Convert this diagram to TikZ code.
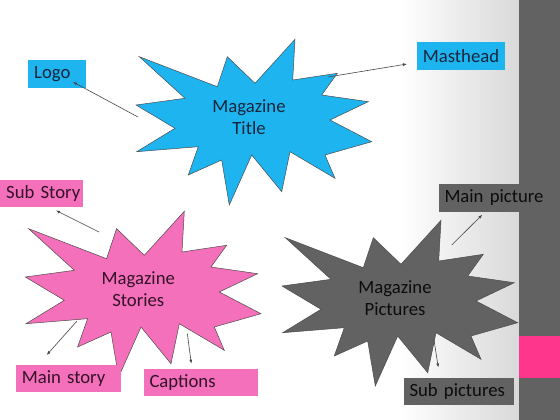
\documentclass[tikz,border=0pt]{standalone}
\usepackage{fontspec}
\setmainfont{Carlito}
\usetikzlibrary{arrows.meta}

\definecolor{titleblue}{RGB}{30,180,240}
\definecolor{storypink}{RGB}{245,112,186}
\definecolor{picgray}{RGB}{98,98,98}
\definecolor{bandpink}{RGB}{255,55,140}
\definecolor{bluetext}{RGB}{20,38,60}
\definecolor{pinktext}{RGB}{50,18,40}
\definecolor{graytext}{RGB}{12,12,12}
\definecolor{arrowgray}{RGB}{70,70,70}

\tikzset{
  burst/.pic={
    \draw[pic actions] (46,-77.7) -- (43.7,-37) -- (88.3,-43.7) -- (72.7,-22)
      -- (119.3,-15.3) -- (81,3) -- (122.7,24.7) -- (76,38) -- (86,61.3)
      -- (41,34.7) -- (32.7,74.7) -- (2.7,38) -- (-19.7,88) -- (-27.3,43)
      -- (-60.7,58) -- (-50.7,29.7) -- (-112.3,34.7) -- (-74,11.3)
      -- (-113,-12) -- (-64,-18.7) -- (-109.7,-60.3) -- (-31.7,-30.3)
      -- (-21.7,-60.3) -- (6,-33.7) -- cycle;
  },
  burstlabel/.style={align=center, font=\fontsize{18.7}{21.8}\selectfont},
  labelbox/.style={anchor=north west, fill=#1, minimum height=28pt,
    inner xsep=6pt, inner ysep=0pt, align=left,
    font=\fontsize{18.7}{21.8}\selectfont},
  pointer/.style={draw=arrowgray, line width=0.6pt, -{Latex[length=4pt,width=3pt]}}
}

\begin{document}
\begin{tikzpicture}[x=1pt, y=-1pt]
    \useasboundingbox (0,0) rectangle (560,420);

    % Background and side bar
    \fill[white] (0,0) rectangle (560,420);
    \shade[left color=white, right color=gray!30] (400,0) rectangle (519,420);
    \fill[picgray] (519,0) rectangle (560,420);
    \fill[bandpink] (519,335.7) rectangle (560,377.7);

    % Bursts
    \pic[fill=titleblue, draw=black!70, line width=0.5pt] at (249,117) {burst};
    \pic[fill=storypink, draw=black!70, line width=0.5pt] at (138.3,289) {burst};
    \pic[fill=picgray, draw=black!70, line width=0.5pt] at (395,298) {burst};

    \node[burstlabel, text=bluetext] (title) at (249,117) {Magazine\\Title};
    \node[burstlabel, text=pinktext] (stories) at (138.3,289) {Magazine\\Stories};
    \node[burstlabel, text=graytext] (pictures) at (395,298) {Magazine\\Pictures};

    % Boxes
    \node[labelbox=titleblue, text=bluetext, text width=46pt] (logo) at (28,60) {\mbox{Logo}};
    \node[labelbox=titleblue, text=bluetext, text width=76pt] (masthead) at (416.7,42.3) {\mbox{Masthead}};
    \node[labelbox=storypink, text=pinktext, text width=71pt, minimum height=27pt] (substory) at (0,179.5) {\mbox{Sub Story}};
    \node[labelbox=storypink, text=pinktext, text width=93pt, minimum height=27pt] (mainstory) at (15.7,365) {\mbox{Main story}};
    \node[labelbox=storypink, text=pinktext, text width=102pt, minimum height=27pt] (captions) at (143.3,369) {\mbox{Captions}};
    \node[labelbox=picgray, text=graytext, text width=96pt] (mainpicture) at (438.3,183.3) {\mbox{Main picture}};
    \node[labelbox=picgray, text=graytext, text width=98pt, minimum height=27.5pt] (subpictures) at (403.3,377.5) {\mbox{Sub pictures}};

    % Arrow ends
    \coordinate (logo tail) at (138,117);
    \coordinate (logo tip) at (73,82);
    \coordinate (masthead tail) at (328,77);
    \coordinate (masthead tip) at (407,64);
    \coordinate (substory tail) at (99,232);
    \coordinate (substory tip) at (56,210.5);
    \coordinate (mainstory tail) at (77,321);
    \coordinate (mainstory tip) at (46.7,355);
    \coordinate (captions tail) at (187.3,333.3);
    \coordinate (captions tip) at (191.3,363.7);
    \coordinate (mainpicture tail) at (451.7,245);
    \coordinate (mainpicture tip) at (482.3,214.7);
    \coordinate (subpictures tail) at (434,340);
    \coordinate (subpictures tip) at (438.3,367.5);

    % Arrows
    \draw[pointer] (logo tail) -- (logo tip);
    \draw[pointer] (masthead tail) -- (masthead tip);
    \draw[pointer] (substory tail) -- (substory tip);
    \draw[pointer] (mainstory tail) -- (mainstory tip);
    \draw[pointer] (captions tail) -- (captions tip);
    \draw[pointer] (mainpicture tail) -- (mainpicture tip);
    \draw[pointer] (subpictures tail) -- (subpictures tip);
\end{tikzpicture}
\end{document}
